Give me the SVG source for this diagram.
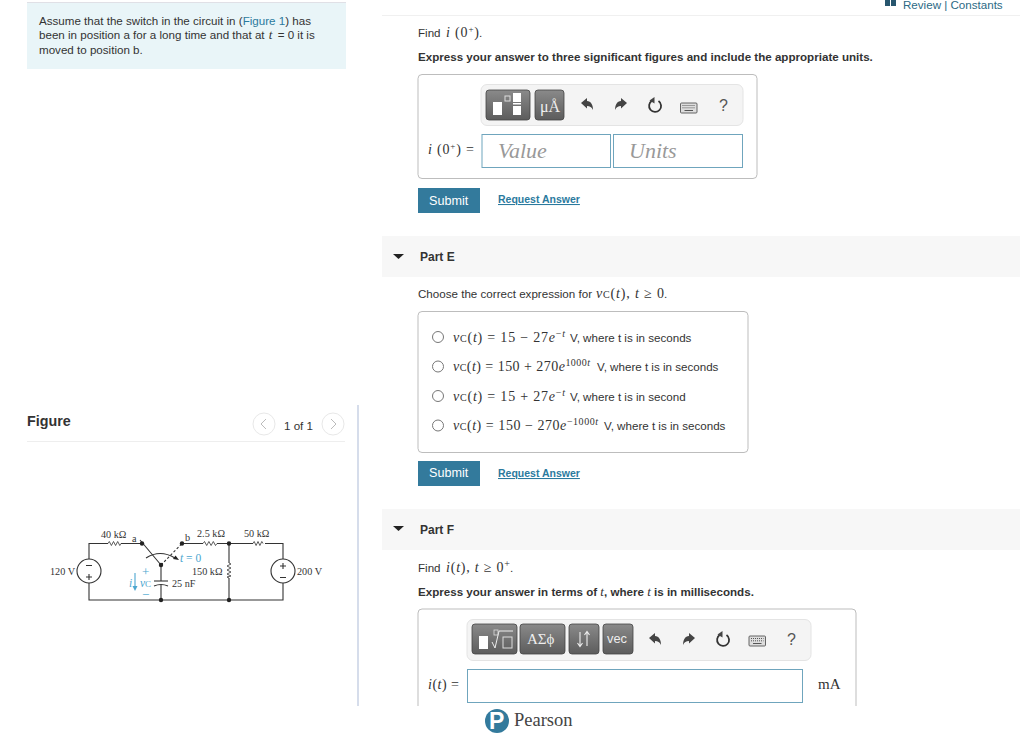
<svg xmlns="http://www.w3.org/2000/svg" width="1024" height="750" viewBox="0 0 1024 750">
<style>
text{font-family:"Liberation Sans",Arial,sans-serif;font-size:11.6px;fill:#333}
.b{font-weight:bold}
.s{font-family:"Liberation Serif","Times New Roman",serif}
.i{font-style:italic}
.m{font-family:"Liberation Serif","Times New Roman",serif;font-size:14px}
.c{font-size:10.200px;fill:#333}
.blue{fill:#4ba6cf;font-size:11.500px}
.w{stroke:#333;stroke-width:1.100;fill:none}
.bl{stroke:#4ba6cf;stroke-width:1.100;fill:none}
.d{fill:#222}
.link{fill:#2b7a9e;font-weight:bold;font-size:10.500px;text-decoration:underline}
.sub{fill:#fff;font-size:12.600px}
.tb{fill:#f4f4f4;stroke:#e4e4e4}
.btn{fill:url(#g);stroke:#444;stroke-width:.8}
.ic{fill:#444}
.box{fill:#fff;stroke:#bdbdbd;stroke-width:1}
.inp{fill:#fff;stroke:#6fa5bd;stroke-width:1}
.ph{font-family:"Liberation Serif",serif;font-style:italic;font-size:22px;fill:#999}
.radio{fill:#fff;stroke:#777;stroke-width:1}
.part{fill:#f7f7f7}
.q{font-size:16px;fill:#555}
</style>
<defs>
<linearGradient id="g" x1="0" y1="0" x2="0" y2="1"><stop offset="0" stop-color="#8a8a8a"/><stop offset="1" stop-color="#5c5c5c"/></linearGradient>
<g id="undo"><path class="ic" d="M0 5 L6 0 V3 C10 3 12 7 12 12 C10.500 9 9 8 6 8 V10.500 Z"/></g>
<g id="redo"><path class="ic" d="M12 5 L6 0 V3 C2 3 0 7 0 12 C1.500 9 3 8 6 8 V10.500 Z"/></g>
<g id="reset"><path d="M3.500 -5 A6 6 0 1 1 -3 -5.200" fill="none" stroke="#333" stroke-width="1.800"/><path class="ic" d="M-.5 -9 L-.5 -2.500 L-5.500 -5.500 Z"/></g>
<g id="kbd"><rect x="0" y="0" width="16.500" height="10" rx="1" fill="#ddd" stroke="#555" stroke-width=".9"/><path d="M2 2.500H14.500M2 4.800H14.500" stroke="#555" stroke-width="1" stroke-dasharray="1 1"/><path d="M4 7.500H12.500" stroke="#555" stroke-width="1"/></g>
</defs>
<rect width="1024" height="750" fill="#fff"/>

<!-- Problem statement -->
<rect x="27" y="3" width="319" height="66" fill="#e9f5f8"/>
<path d="M27 2.500H346" stroke="#e0e0e6"/>
<text x="39" y="25">Assume that the switch in the circuit in (<tspan fill="#2b7a9e">Figure 1</tspan>) has</text>
<text x="39" y="39">been in position a for a long time and that at <tspan class="s i" font-size="13" dx="1">t</tspan><tspan dx="2"> = 0 it is</tspan></text>
<text x="39" y="54">moved to position b.</text>

<!-- Figure header -->
<text x="27" y="426" class="b" style="font-size:14.300px">Figure</text>
<circle cx="264" cy="424" r="11" fill="#fff" stroke="#e8e8e8"/><path d="M266 419l-5 5 5 5" fill="none" stroke="#bbb"/>
<text x="284" y="430">1 of 1</text>
<circle cx="333" cy="424" r="11" fill="#fff" stroke="#e8e8e8"/><path d="M331 419l5 5-5 5" fill="none" stroke="#bbb"/>
<path d="M27 441.500H345" stroke="#eee"/>
<path d="M358 405V706" stroke="#c9d2e4" stroke-width="1.500"/>

<!-- Circuit -->
<g id="connectors">
<path class="w" d="M89 559V543.500H108M121 543.500H142M140 540L161 565M182 543.500H203M217 543.500H253M265 543.500H283V559M89 583V600H283V583M161 565V581M161 585V600M229 543.500V563M229 578V600"/>
<path class="w" style="stroke-width:.8" d="M108 543.500l1.300-2 2.100 4 2.100-4 2.100 4 2.100-4 2.100 4 1.100-2M203 543.500l1.500-2 2.200 4 2.200-4 2.200 4 2.200-4 2.200 4 1.500-2M253 543.500l1.200-2 1.900 4 1.900-4 1.900 4 1.900-4 1.200 2M229 563l2 1-4 2 4 2-4 2 4 2-4 2 4 2-4 1 2 1"/>
<path class="w" stroke-dasharray="2.500 2" d="M161 565L182 543.500"/>
<path class="w" d="M146 558Q160 549 175 558"/>
<path d="M179 560l-6-1 2.500-3.500z" fill="#222"/>
<path class="w" d="M154 581H168"/>
<path class="w" d="M154 586Q161 583 168 586"/>
<path class="bl" d="M135 573V587"/><path d="M132.500 586h5l-2.500 5z" fill="#4ba6cf"/>
</g>
<g id="node-left-source"><circle class="w" cx="89" cy="571" r="12"/><path class="w" d="M86 565.500h6M86 577h6M89 574v6"/></g>
<g id="node-right-source"><circle class="w" cx="283" cy="571" r="12"/><path class="w" d="M280 566h6M283 563v6M280 577.500h6"/></g>
<g id="circuit-dots"><circle class="d" cx="142" cy="543.500" r="2.200"/><circle class="d" cx="182" cy="543.500" r="2.200"/><circle class="d" cx="161" cy="565" r="2.200"/><circle class="d" cx="229" cy="543.500" r="2.200"/><circle class="d" cx="161" cy="600" r="2.200"/><circle class="d" cx="229" cy="600" r="2.200"/></g>
<g id="circuit-labels">
<text class="s c" x="101" y="538">40 kΩ</text><text class="s c" x="132" y="542">a</text>
<text class="s c" x="185" y="541">b</text><text class="s c" x="197" y="537">2.5 kΩ</text><text class="s c" x="244" y="537">50 kΩ</text>
<text class="s c" x="50" y="575">120 V</text><text class="s c" x="297" y="575">200 V</text>
<text class="s c" x="192" y="575">150 kΩ</text><text class="s c" x="172" y="587">25 nF</text>
<text class="s blue" x="180" y="562"><tspan class="i">t</tspan> = 0</text>
<text class="s blue" x="142" y="576" style="font-size:13px">+</text>
<text class="s blue i" x="129" y="587">i</text>
<text class="s blue i" x="140" y="587">v<tspan font-size="9" font-style="normal">C</tspan></text>
<text class="s blue" x="142" y="599" style="font-size:13px">−</text>
</g>

<!-- Header right -->
<rect x="885" y="0" width="5" height="6" fill="#28566e"/><rect x="891" y="0" width="5" height="6" fill="#28566e"/>
<text x="903" y="9" style="fill:#2b6a85">Review | Constants</text>
<path d="M382 15.500H1020" stroke="#f0f0f0"/>

<!-- Part D -->
<text x="418" y="37">Find</text>
<text class="m" x="446" y="37" textLength="33"><tspan class="i">i</tspan> (0<tspan font-size="9" dy="-5">+</tspan><tspan dy="5">)</tspan></text><text x="479" y="37">.</text>
<text x="418" y="61" class="b">Express your answer to three significant figures and include the appropriate units.</text>
<rect class="box" x="418" y="74.500" width="339" height="104" rx="4"/>
<rect class="tb" x="481" y="84.500" width="262" height="41" rx="6"/>
<rect class="btn" x="486" y="90" width="44" height="30" rx="3"/>
<rect x="493" y="102" width="9" height="13" fill="#fff"/><rect x="505" y="96" width="5" height="5" fill="none" stroke="#ddd"/><rect x="513" y="93" width="8" height="9" fill="#fff"/><rect x="513" y="103" width="8" height="1.500" fill="#fff"/><rect x="513" y="106" width="8" height="9" fill="#fff"/>
<rect class="btn" x="535" y="90" width="29" height="30" rx="3"/>
<text class="s" x="540" y="112" style="fill:#eee;font-size:16px">μÅ</text>
<use href="#undo" x="581" y="98"/><use href="#redo" x="615" y="98"/><use href="#reset" x="655" y="106"/><use href="#kbd" x="680.500" y="103"/>
<text class="q" x="719" y="111">?</text>
<text class="m" x="428" y="154" textLength="46"><tspan class="i">i</tspan> (0<tspan font-size="9" dy="-5">+</tspan><tspan dy="5">) =</tspan></text>
<rect class="inp" x="482" y="134.500" width="128.500" height="33"/><text class="ph" x="498" y="158">Value</text>
<rect class="inp" x="613.500" y="134.500" width="129" height="33"/><text class="ph" x="629" y="158">Units</text>
<rect x="418" y="188" width="62" height="25" fill="#337a9c"/><text class="sub" x="429" y="205">Submit</text>
<text class="link" x="498" y="203">Request Answer</text>

<!-- Part E -->
<rect class="part" x="382" y="236" width="638" height="41"/>
<path d="M393 254h11l-5.500 5z" fill="#222"/>
<text x="420" y="261" class="b" style="font-size:12px">Part E</text>
<text x="418" y="298">Choose the correct expression for</text>
<text class="m" x="596" y="298" textLength="68"><tspan class="i">v</tspan><tspan font-size="10">C</tspan>(<tspan class="i">t</tspan>), <tspan class="i">t</tspan> ≥ 0</text><text x="664" y="298">.</text>
<rect class="box" x="418" y="311.500" width="330" height="141" rx="4"/>
<g id="options">
<circle class="radio" cx="438" cy="337" r="5.500"/><circle class="radio" cx="438" cy="366.500" r="5.500"/><circle class="radio" cx="438" cy="396" r="5.500"/><circle class="radio" cx="438" cy="425.500" r="5.500"/>
<text class="m" x="453" y="342" textLength="112"><tspan class="i">v</tspan><tspan font-size="10">C</tspan>(<tspan class="i">t</tspan>) = 15 − 27<tspan class="i">e</tspan><tspan font-size="10" dy="-5">−<tspan class="i">t</tspan></tspan></text><text x="570" y="342">V, where t is in seconds</text>
<text class="m" x="453" y="371" textLength="137"><tspan class="i">v</tspan><tspan font-size="10">C</tspan>(<tspan class="i">t</tspan>) = 150 + 270<tspan class="i">e</tspan><tspan font-size="10" dy="-5">1000<tspan class="i">t</tspan></tspan></text><text x="597" y="371">V, where t is in seconds</text>
<text class="m" x="453" y="401" textLength="112"><tspan class="i">v</tspan><tspan font-size="10">C</tspan>(<tspan class="i">t</tspan>) = 15 + 27<tspan class="i">e</tspan><tspan font-size="10" dy="-5">−<tspan class="i">t</tspan></tspan></text><text x="570" y="401">V, where t is in second</text>
<text class="m" x="453" y="430" textLength="145"><tspan class="i">v</tspan><tspan font-size="10">C</tspan>(<tspan class="i">t</tspan>) = 150 − 270<tspan class="i">e</tspan><tspan font-size="10" dy="-5">−1000<tspan class="i">t</tspan></tspan></text><text x="604" y="430">V, where t is in seconds</text>
</g>
<rect x="418" y="461" width="62" height="25" fill="#337a9c"/><text class="sub" x="429" y="477">Submit</text>
<text class="link" x="498" y="477">Request Answer</text>

<!-- Part F -->
<rect class="part" x="382" y="509" width="638" height="41"/>
<path d="M393 526h11l-5.500 5z" fill="#222"/>
<text x="420" y="533.500" class="b" style="font-size:12px">Part F</text>
<text x="418" y="572">Find</text>
<text class="m" x="446" y="572" textLength="64"><tspan class="i">i</tspan>(<tspan class="i">t</tspan>), <tspan class="i">t</tspan> ≥ 0<tspan font-size="10" dy="-5">+</tspan></text><text x="510" y="572">.</text>
<text x="418" y="596" class="b">Express your answer in terms of <tspan class="s i" font-weight="normal" font-size="13">t</tspan>, where <tspan class="s i" font-weight="normal" font-size="13">t</tspan> is in milliseconds.</text>
<path d="M418 706V613a4 4 0 0 1 4-4H852a4 4 0 0 1 4 4V706" fill="#fff" stroke="#bdbdbd"/>
<rect class="tb" x="467" y="619.500" width="344" height="41" rx="6"/>
<rect class="btn" x="472" y="624" width="45" height="30" rx="3"/>
<rect x="479" y="636" width="9" height="13" fill="#fff"/><path d="M492 642l3 6 4-17h14" fill="none" stroke="#eee"/><rect x="494" y="630" width="4" height="5" fill="none" stroke="#ddd" stroke-width=".8"/><rect x="503" y="637" width="9" height="11" fill="none" stroke="#ddd"/>
<rect class="btn" x="520" y="624" width="45" height="30" rx="3"/><text class="s" x="527" y="644" style="fill:#eee;font-size:15px">ΑΣϕ</text>
<rect class="btn" x="569" y="624" width="30" height="30" rx="3"/><path d="M580 632V646M577.500 643l2.500 3.500 2.500-3.500M587 646V632M584.500 635l2.500-3.500 2.500 3.500" fill="none" stroke="#eee" stroke-width="1.100"/>
<rect class="btn" x="603" y="624" width="30" height="30" rx="3"/><text x="607" y="643" style="fill:#eee;font-size:12.800px">vec</text>
<use href="#undo" x="649" y="633"/><use href="#redo" x="683" y="633"/><use href="#reset" x="723" y="640"/><use href="#kbd" x="749" y="636"/>
<text class="q" x="787" y="645">?</text>
<text class="m" x="428" y="689" textLength="31"><tspan class="i">i</tspan>(<tspan class="i">t</tspan>) =</text>
<rect class="inp" x="467.500" y="669.500" width="335" height="33"/>
<text class="s" x="818" y="689" style="font-size:15px">mA</text>
<rect x="410" y="706" width="450" height="8" fill="#fff"/>

<!-- Pearson -->
<circle cx="497" cy="721" r="12" fill="#337a9c"/>
<text x="489" y="729" class="b" style="fill:#fff;font-size:23px">P</text>
<text class="s" x="514" y="726" style="font-size:18.500px;fill:#444">Pearson</text>
</svg>
